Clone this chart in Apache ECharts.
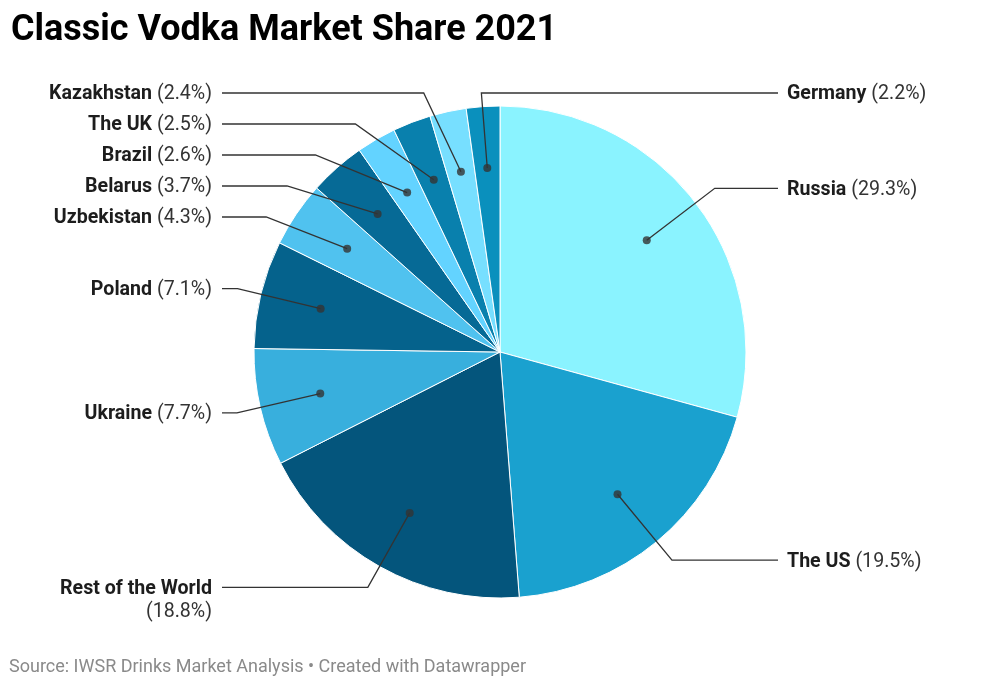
<!DOCTYPE html>
<html>
<head>
<meta charset="utf-8">
<script src="https://cdn.jsdelivr.net/npm/echarts@6/dist/echarts.min.js"></script>
<style>
  html, body { margin: 0; padding: 0; background: #fff; }
  #chart { width: 1000px; height: 685px; }
</style>
</head>
<body>
<div id="chart"></div>
<script>
// data, clockwise from 12 o'clock
var countries = ['Russia', 'The US', 'Rest of the World', 'Ukraine', 'Poland', 'Uzbekistan', 'Belarus', 'Brazil', 'The UK', 'Kazakhstan', 'Germany']
var shares = [29.3, 19.5, 18.8, 7.7, 7.1, 4.3, 3.7, 2.6, 2.5, 2.4, 2.2]
var colors = ['#8af3ff', '#1aa1cf', '#04557c', '#38afdd', '#05628c', '#50c2ef', '#066a96', '#63d3ff', '#0980ad', '#77dfff', '#0a90bd']

// pie geometry
var cx = 500
var cy = 352
var R = 246
var R1 = 270 // radius of the label line elbows
var dotR = 0.75 // dots at 3/4 of the radius
var labelTop = 93
var labelGap = 31
var lineEndL = 222
var lineEndR = 778

var total = shares.reduce(function (a, b) { return a + b }, 0)
var mids = [] // mid position of each slice, in percent of the pie
var acc = 0
shares.forEach(function (v) {
  mids.push((acc + v / 2) / total * 100)
  acc += v
})

// work out label positions (datawrapper-like stacking)
var lay = mids.map(function (m, i) {
  var a = m / 100 * Math.PI * 2
  var deg = m * 3.6
  return {
    i: i,
    a: a,
    nx: cx + R1 * Math.sin(a),
    ny: cy - R1 * Math.cos(a),
    side: (deg < 180 || deg > 352) ? 1 : -1
  }
})
;[1, -1].forEach(function (side) {
  var items = lay.filter(function (d) { return d.side === side })
  items.sort(function (p, q) { return p.ny - q.ny })
  var prev = -Infinity
  items.forEach(function (d) {
    d.ly = Math.max(d.ny, prev + labelGap, labelTop)
    prev = d.ly
    var dy = d.ly - cy
    var s = Math.sin(d.a) >= 0 ? 1 : -1
    if (s === side && Math.abs(dy) < R1) {
      d.ex = cx + side * Math.sqrt(R1 * R1 - dy * dy)
    } else {
      d.ex = d.nx
    }
  })
})

var pieData = countries.map(function (c, i) {
  return { name: c, value: shares[i], itemStyle: { color: colors[i] } }
})
var dotData = mids.map(function (m, i) { return [dotR, m, i] })

var myChart = echarts.init(document.getElementById('chart'))
myChart.setOption({
  animation: false,
  title: [
    {
      text: 'Classic Vodka Market Share 2021',
      left: 6,
      top: 8,
      textStyle: { fontFamily: 'Roboto', fontSize: 36, fontWeight: 'bold', color: '#000' }
    },
    {
      text: 'Source: IWSR Drinks Market Analysis \u2022 Created with Datawrapper',
      left: 4,
      top: 653,
      textStyle: { fontFamily: 'Roboto', fontSize: 18, fontWeight: 'normal', color: '#8a8a8a' }
    }
  ],
  polar: { center: [cx, cy], radius: R },
  angleAxis: { type: 'value', min: 0, max: 100, startAngle: 90, clockwise: true, show: false },
  radiusAxis: { type: 'value', min: 0, max: 1, show: false },
  series: [
    {
      type: 'pie',
      center: [cx, cy],
      radius: R,
      startAngle: 90,
      clockwise: true,
      data: pieData,
      silent: true,
      itemStyle: { borderColor: '#fff', borderWidth: 1 },
      label: {
        show: true,
        position: 'outside',
        fontFamily: 'Roboto',
        formatter: function (p) {
          var long = p.name.length > 14
          return '{b|' + p.name + (long ? '' : ' ') + '}' + (long ? '\n' : '') + '{v|(' + p.value.toFixed(1) + '%)}'
        },
        rich: {
          b: { fontFamily: 'Roboto', fontSize: 19.6, fontWeight: 'bold', color: '#1d1d1d', lineHeight: 23 },
          v: { fontFamily: 'Roboto', fontSize: 19.6, color: '#333', lineHeight: 23 }
        }
      },
      labelLine: { show: false },
      labelLayout: function (params) {
        var d = lay[params.dataIndex]
        return {
          x: d.side === 1 ? lineEndR + 9 : lineEndL - 10,
          y: d.ly - 10,
          align: d.side === 1 ? 'left' : 'right',
          verticalAlign: 'top'
        }
      }
    },
    {
      // leader lines from the dot inside each slice out to its label
      type: 'custom',
      coordinateSystem: 'polar',
      data: dotData,
      silent: true,
      z: 4,
      renderItem: function (params, api) {
        var p = api.coord([api.value(0), api.value(1)])
        var d = lay[api.value(2)]
        var endX = d.side === 1 ? lineEndR : lineEndL
        return {
          type: 'polyline',
          shape: { points: [p, [d.ex, d.ly], [endX, d.ly]] },
          style: { stroke: '#333', lineWidth: 1.3, fill: null }
        }
      }
    },
    {
      type: 'scatter',
      coordinateSystem: 'polar',
      data: dotData,
      symbolSize: 8,
      silent: true,
      itemStyle: { color: '#333' },
      z: 5
    }
  ]
})
</script>
</body>
</html>
